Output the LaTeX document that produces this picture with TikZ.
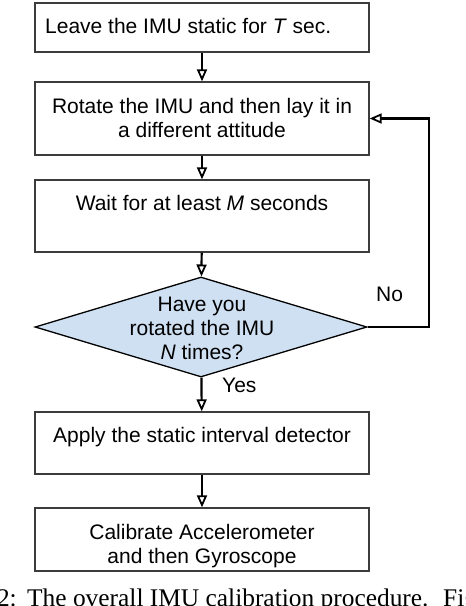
\documentclass[tikz,border=0pt]{standalone}
\usepackage{fontspec}
\setmainfont{Liberation Sans}
\newfontfamily\capfont{Liberation Serif}
\usetikzlibrary{shapes.geometric,arrows.meta}
\definecolor{boxline}{RGB}{60,60,60}
\definecolor{decfill}{RGB}{207,224,243}
\tikzset{
  stepbox/.style={draw=boxline, line width=1.3pt, rectangle, minimum width=334pt, inner sep=0pt},
  txt/.style={font=\fontsize{21}{24}\selectfont, align=center, inner sep=0pt, anchor=base},
  captxt/.style={font=\capfont\fontsize{25.4}{30}\selectfont, inner sep=0pt},
  flow/.style={line width=2.2pt, -{Triangle[open, length=12pt, width=10pt, line width=1.8pt]}},
}
\begin{document}
\begin{tikzpicture}[x=1pt,y=-1pt]
\useasboundingbox (0,0) rectangle (466,606);
\clip (0,0) rectangle (466,606);
\node[stepbox, minimum height=49pt] (b1) at (202,27.5) {};
\node[stepbox, minimum height=73pt] (b2) at (202,118.5) {};
\node[stepbox, minimum height=72pt] (b3) at (202,216) {};
\node[draw=black, line width=1.3pt, fill=decfill, shape=diamond, minimum width=332pt, minimum height=100pt, inner sep=0pt] (d) at (201,327) {};
\node[stepbox, minimum height=62pt] (b4) at (202,443) {};
\node[stepbox, minimum height=63pt] (b5) at (202,539.5) {};
\node[txt, anchor=base west] (t1) at (45,33) {Leave the IMU static for \textit{T} sec.};
\node[txt] (t2) at (202,137) {Rotate the IMU and then lay it in\\a different attitude};
\node[txt] (t3) at (202,210) {Wait for at least \textit{M} seconds};
\node[txt] (t4) at (202,359) {Have you\\rotated the IMU\\\textit{N} times?};
\node[txt] (t5) at (202,442) {Apply the static interval detector};
\node[txt] (t6) at (202,563) {Calibrate Accelerometer\\and then Gyroscope};
\node[txt, anchor=base west] (no) at (376,301) {No};
\node[txt, anchor=base west] (yes) at (222,392) {Yes};
\draw[flow] (b1) -- (b2);
\draw[flow] (b2) -- (b3);
\draw[flow] (b3) -- (d);
\draw[flow] (d) -- (b4);
\draw[flow] (b4) -- (b5);
\coordinate (c1) at (429,327);
\draw[flow] (d.east) -- (c1) |- (b2.east);
\node[captxt, anchor=base east] (cap0) at (17,606) {2:};
\node[captxt, anchor=base west] (cap1) at (27,606) {The overall IMU calibration procedure.};
\node[captxt, anchor=base west] (cap2) at (443,606) {Figure};
\end{tikzpicture}
\end{document}
